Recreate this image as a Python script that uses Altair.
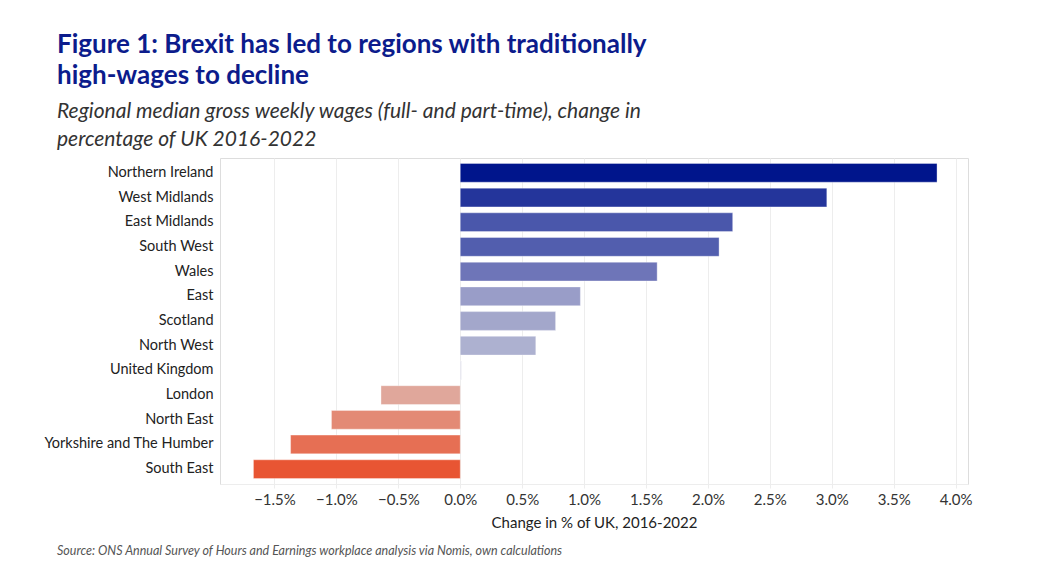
import altair as alt
import pandas as pd

regions = ["Northern Ireland", "West Midlands", "East Midlands", "South West", "Wales",
           "East", "Scotland", "North West", "United Kingdom", "London", "North East",
           "Yorkshire and The Humber", "South East"]
changes = [3.85, 2.96, 2.20, 2.09, 1.59, 0.97, 0.77, 0.61, 0.01, -0.64, -1.04, -1.37, -1.67]
colors = ["#00158C", "#24359B", "#4A57AB", "#525EAE", "#6E75B8", "#999DC8", "#A3A7CB",
          "#ADB1D0", "#DCDDEA", "#E0A79B", "#E38A75", "#E66F54", "#E85533"]
tick_values = [-1.5, -1.0, -0.5, 0.0, 0.5, 1.0, 1.5, 2.0, 2.5, 3.0, 3.5, 4.0]

title_lines = ["Figure 1: Brexit has led to regions with traditionally", "high-wages to decline"]
subtitle_lines = ["Regional median gross weekly wages (full- and part-time), change in",
                  "percentage of UK 2016-2022"]
source_text = "Source: ONS Annual Survey of Hours and Earnings workplace analysis via Nomis, own calculations"
x_title = "Change in % of UK, 2016-2022"

FONT = "Lato"
df = pd.DataFrame({"region": regions, "change": changes})

bars = alt.Chart(df).mark_bar(stroke="#FFFFFF", strokeWidth=0.6, strokeOpacity=0.6).encode(
    x=alt.X("change:Q",
            scale=alt.Scale(domain=[-1.94, 4.1], nice=False, zero=False),
            axis=alt.Axis(values=tick_values, title=x_title,
                          labelExpr="format(datum.value, '.1f') + '%'",
                          labelFont=FONT, labelFontSize=15, labelColor="#333333",
                          labelPadding=4, titleFont=FONT, titleFontSize=15,
                          titleFontWeight="normal", titleColor="#222222", titlePadding=8,
                          grid=True, gridColor="#EDEDED", gridWidth=1,
                          domain=True, domainColor="#EDEDED", domainWidth=1,
                          ticks=True, tickColor="#EDEDED", tickSize=4)),
    y=alt.Y("region:N", sort=regions,
            scale=alt.Scale(paddingInner=0.24, paddingOuter=0.22),
            axis=alt.Axis(title=None, domain=False, ticks=False, grid=False,
                          labelFont=FONT, labelFontSize=14.5, labelColor="#222222",
                          labelPadding=7)),
    color=alt.Color("region:N", scale=alt.Scale(domain=regions, range=colors), legend=None),
)

source = alt.Chart(pd.DataFrame({"t": [source_text]})).mark_text(
    align="left", baseline="alphabetic", font=FONT, fontSize=12.5, fontStyle="italic",
    color="#555555"
).encode(text="t:N", x=alt.value(-163), y=alt.value(397))

chart = alt.layer(bars, source).properties(
    width=748, height=326,
    padding={"left": 220, "top": 158, "right": 77, "bottom": 92},
    autosize=alt.AutoSizeParams(type="none"),
    title=alt.TitleParams(
        text=title_lines, subtitle=subtitle_lines, anchor="start", frame="group",
        dx=-163, offset=8,
        font=FONT, fontSize=26, fontWeight="bold", color="#0C1C8C", lineHeight=31,
        subtitleFont=FONT, subtitleFontSize=21, subtitleFontStyle="italic",
        subtitleColor="#333333", subtitleLineHeight=28, subtitlePadding=12),
).configure_view(stroke=None).configure(background="white")

chart.save("out.html", embed_options={"renderer": "svg", "actions": False})
